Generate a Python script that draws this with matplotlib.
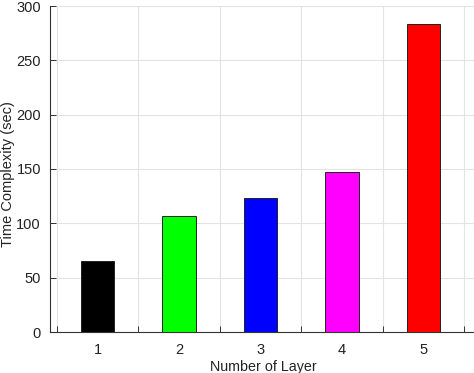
import matplotlib
matplotlib.use("Agg")
import matplotlib.pyplot as plt
from matplotlib.ticker import FixedLocator, NullFormatter, FixedFormatter

layers = [1, 2, 3, 4, 5]
times = [65, 107, 123, 147, 283]
colors = ["#000000", "#00ff00", "#0000ff", "#ff00ff", "#ff0000"]
yticks = [0, 50, 100, 150, 200, 250, 300]

plt.rcParams['font.family'] = ['Liberation Sans', 'DejaVu Sans']

fig = plt.figure(figsize=(4.74, 3.73), dpi=100)
W, H = 474, 373
left, bottom = 50 / W, 1 - 332 / H
x0, x1 = 0.414, 5.65
ppu = 81.4
axw_px = (x1 - x0) * ppu
ax = fig.add_axes([left, bottom, axw_px / W, (332 - 6) / H])

ax.bar(layers, times, width=0.41, color=colors, edgecolor="#222222", linewidth=0.7, zorder=3)

ax.set_xlim(x0, x1)
ax.set_ylim(0, 300)
ax.set_yticks(yticks)
ax.xaxis.set_major_locator(FixedLocator([0.5, 1.5, 2.5, 3.5, 4.5, 5.5]))
ax.xaxis.set_major_formatter(NullFormatter())
ax.xaxis.set_minor_locator(FixedLocator(layers))
ax.xaxis.set_minor_formatter(FixedFormatter([str(l) for l in layers]))
ax.tick_params(axis='x', which='minor', length=0, labelsize=10.5, pad=8, colors='#222222')
ax.tick_params(axis='x', which='major', direction='in', length=4, width=0.7, color='#333333')
ax.tick_params(axis='y', direction='in', length=4, width=0.7, labelsize=10.5, pad=6.5,
               color='#333333', labelcolor='#222222')

ax.grid(True, which='major', color='#e3e3e3', linewidth=0.8, zorder=0)
ax.set_axisbelow(True)
for s in ['top', 'right']:
    ax.spines[s].set_visible(False)
for s in ['left', 'bottom']:
    ax.spines[s].set_color('#333333')
    ax.spines[s].set_linewidth(0.8)

ax.set_xlabel("Number of Layer", fontsize=10.3, labelpad=2, color='#222222')
ax.set_ylabel("Time Complexity (sec)", fontsize=10.5, color='#222222')
ax.yaxis.set_label_coords(-35 / axw_px, (332 - 174) / 326)

fig.savefig("out.png", dpi=100)
